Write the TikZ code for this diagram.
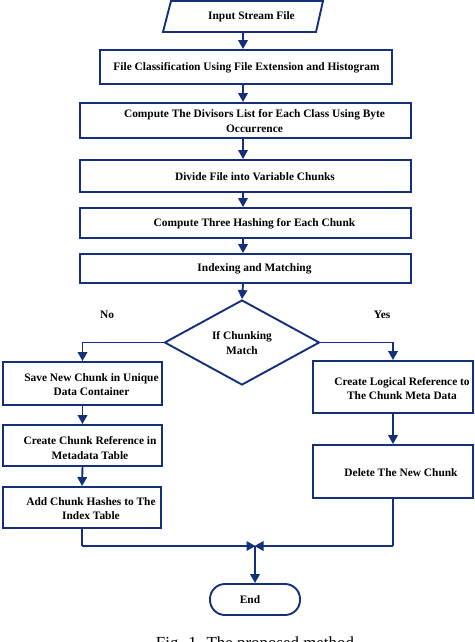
\documentclass[tikz,border=0pt]{standalone}
\usepackage{fontspec}
\setmainfont{Liberation Serif}
\usetikzlibrary{shapes.geometric,arrows.meta}
\definecolor{navy}{HTML}{15307A}
\tikzset{
  box/.style={draw=navy,line width=1.9pt,rectangle,inner sep=0pt,fill=white},
  txt/.style={font=\fontsize{11.4}{14.5}\selectfont\bfseries,align=center,inner sep=0pt,text=black},
  ln/.style={draw=navy,line width=1.9pt},
  arr/.style={ln,-{Triangle[length=9pt,width=9.5pt]}},
}
\begin{document}
\begin{tikzpicture}[x=1pt,y=-1pt]
\useasboundingbox (0,0) rectangle (474,642);
% input parallelogram
\coordinate (p1) at (171,1);
\coordinate (p2) at (323,1);
\coordinate (p3) at (316,32);
\coordinate (p4) at (163,32);
\draw[ln,line join=miter] (p1) -- (p2) -- (p3) -- (p4) -- cycle;
\coordinate (inp) at (243,32);
\node[txt] (tinp) at (251.5,17) {Input Stream File};
% main boxes
\node[box,minimum width=292pt,minimum height=34pt] (b2) at (246,67) {};
\node[txt] at (246.5,67.5) {File Classification Using File Extension and Histogram};
\node[box,minimum width=331pt,minimum height=35pt] (b3) at (245.5,120.5) {};
\node[txt] at (254.5,121) {Compute The Divisors List for Each Class Using Byte\\Occurrence};
\node[box,minimum width=331pt,minimum height=32pt] (b4) at (245.5,176) {};
\node[txt] at (255,176.5) {Divide File into Variable Chunks};
\node[box,minimum width=331pt,minimum height=30pt] (b5) at (245.5,223) {};
\node[txt] at (254.5,223.5) {Compute Three Hashing for Each Chunk};
\node[box,minimum width=331pt,minimum height=29pt] (b6) at (245.5,268.5) {};
\node[txt] at (254.5,269) {Indexing and Matching};
% diamond
\node[draw=navy,line width=1.9pt,diamond,minimum width=155pt,minimum height=85pt,inner sep=0pt] (dec) at (242,342.5) {};
\node[txt] at (242,343) {If Chunking\\Match};
\node[txt] at (107,315) {No};
\node[txt] at (382,315) {Yes};
% left boxes
\node[box,minimum width=159pt,minimum height=43pt] (l1) at (82.5,383.5) {};
\node[txt] at (91.5,384.5) {Save New Chunk in Unique\\Data Container};
\node[box,minimum width=159pt,minimum height=41pt] (l2) at (82.5,445.5) {};
\node[txt] at (90,448) {Create Chunk Reference in\\Metadata Table};
\node[box,minimum width=158pt,minimum height=41pt] (l3) at (82,507.5) {};
\node[txt] at (91,508.5) {Add Chunk Hashes to The\\Index Table};
% right boxes
\node[box,minimum width=160pt,minimum height=52pt] (r1) at (393,387) {};
\node[txt] at (402,388.5) {Create Logical Reference to\\The Chunk Meta Data};
\node[box,minimum width=160pt,minimum height=53pt] (r2) at (393,471.5) {};
\node[txt] at (401,473) {Delete The New Chunk};
% end
\node[draw=navy,line width=1.9pt,rounded corners=15pt,minimum width=90pt,minimum height=31pt,inner sep=0pt] (end) at (255,599.5) {};
\node[txt] at (250,600) {End};
% caption (cut off at the lower edge, as in the reference)
\node[font=\fontsize{16.9}{18}\selectfont,anchor=base,inner sep=0pt] (cap) at (255,648) {Fig. 1. The proposed method};
% connectors
\draw[arr] (inp) -- (inp |- b2.north);
\draw[arr] (b2.south -| inp) -- (inp |- b3.north);
\draw[arr] (b3.south -| inp) -- (inp |- b4.north);
\draw[arr] (b4.south -| inp) -- (inp |- b5.north);
\draw[arr] (b5.south -| inp) -- (inp |- b6.north);
\draw[arr] (b6.south -| inp) -- (dec.north);
\draw[arr] (dec.west) -| (l1.north);
\draw[arr] (dec.east) -| (r1.north);
\draw[arr] (l1.south) -- (l2.north);
\draw[arr] (l2.south) -- (l3.north);
\draw[arr] (r1.south) -- (r2.north);
\coordinate (j) at (255,546);
\draw[ln] (l3.south) -- (l3.south |- j);
\draw[arr] (l3.south |- j) -- ([xshift=0.5pt]j);
\draw[ln] (r2.south) -- (r2.south |- j);
\draw[arr] (r2.south |- j) -- ([xshift=-0.5pt]j);
\draw[arr] (j) -- (end.north);
\end{tikzpicture}
\end{document}
